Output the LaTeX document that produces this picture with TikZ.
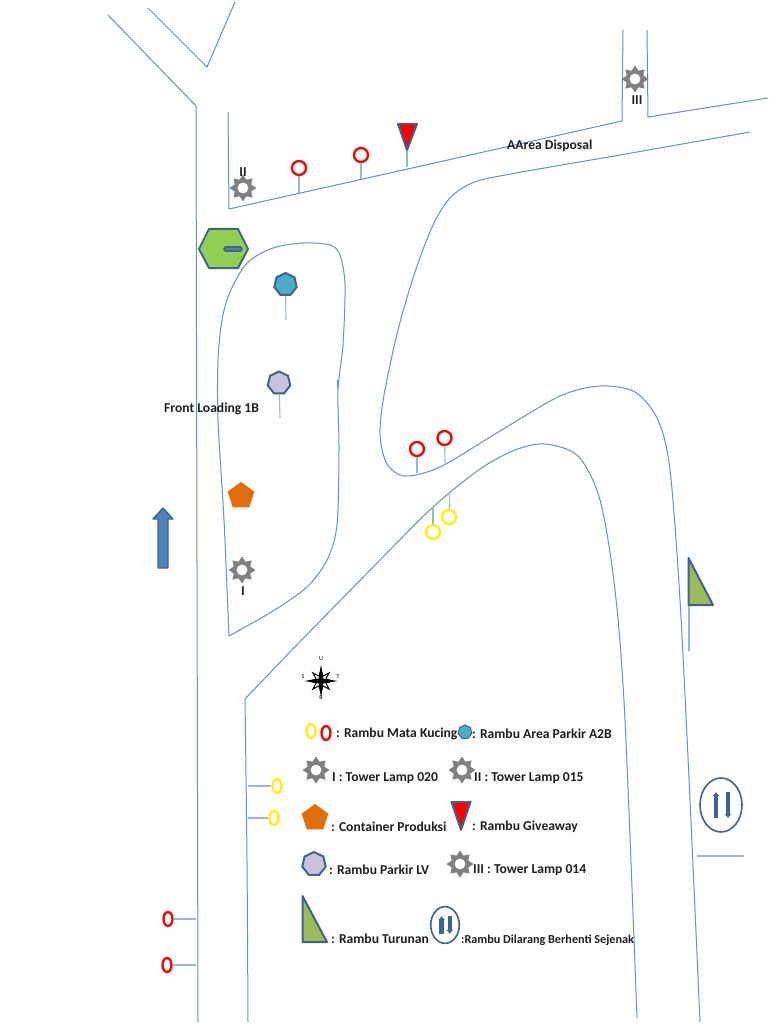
\documentclass[tikz,border=0pt]{standalone}
\usepackage{fontspec}
\setmainfont{Carlito}
\usetikzlibrary{shapes.geometric,arrows.meta}
\definecolor{roadblue}{HTML}{6690C2}
\definecolor{poleblue}{HTML}{9AB7D8}
\definecolor{signdark}{HTML}{3F6391}
\definecolor{signblue}{HTML}{4F81BD}
\definecolor{signteal}{HTML}{4BACC6}
\definecolor{signlilac}{HTML}{CCC1DA}
\definecolor{signgreen}{HTML}{92D050}
\definecolor{signolive}{HTML}{9BBB59}
\definecolor{signorange}{HTML}{E36C0A}
\tikzset{
  road/.style={draw=roadblue,line width=1pt},
  pole/.style={draw=poleblue,line width=1.1pt},
  ringred/.style={ellipse,draw=red,line width=2.3pt,fill=white,minimum width=14pt,minimum height=14pt,inner sep=0pt},
  ringyellow/.style={ringred,draw=yellow},
  tallred/.style={ringred,minimum width=9pt,minimum height=14pt},
  tallyellow/.style={ringyellow,minimum width=9pt,minimum height=14pt},
  lamp/.style={star,star points=8,star point ratio=1.5,fill=black!50,inner sep=0pt,minimum size=#1,
    label={[lamphole=0.4*#1]center:{}}},
  lamphole/.style={circle,fill=white,inner sep=0pt,minimum size=#1},
  parkir/.style={regular polygon,regular polygon sides=7,draw=signdark,line width=2pt,inner sep=0pt,minimum size=#1},
  parkirteal/.style={parkir=#1,fill=signteal},
  parkirlv/.style={parkir=#1,fill=signlilac},
  container/.style={regular polygon,regular polygon sides=5,fill=signorange,inner sep=0pt,minimum size=#1},
  giveaway/.style={fill=red,draw=signdark,line width=2pt,line join=round},
  turunan/.style={fill=signolive,draw=signdark,line width=2pt,line join=round},
  label text/.style={font=\bfseries\fontsize{13.6}{13.6}\selectfont,anchor=west,inner sep=0pt,text=black!88},
  nostop/.pic={
    \draw[draw=signdark,line width=1.6pt] (0,0) ellipse (21 and 27);
    \draw[draw=signdark,line width=4.4pt,-{Latex[length=4pt,width=7.5pt]}] (-5,13) -- (-5,-13);
    \draw[draw=signdark,line width=4.4pt,-{Latex[length=4pt,width=7.5pt]}] (7,-13) -- (7,13);
  }
}
\begin{document}
\begin{tikzpicture}[x=1pt,y=-1pt]
    \useasboundingbox (0,0) rectangle (768,1024);
    % draw the roads
    \draw[road] (108,15) -- (196,106) -- (198,1022);
    \draw[road] (148,8) -- (207,67) -- (235,2);
    \draw[road] (228,112) -- (229,209) -- (622,121) -- (623,30);
    \draw[road] (647,30) -- (648,117) -- (768,98);
    \draw[road,smooth] plot coordinates {(750,132) (620,155) (505,175) (472,183) (450,198) (433,225) (415,272) (398,330) (384,395) (380,435) (387,464) (405,476) (440,467) (500,431) (560,396) (600,386) (635,392) (658,420) (670,470) (680,600) (690,800) (700,1022)};
    \draw[road,smooth] plot coordinates {(229,636) (224,520) (218,420) (218,360) (222,320) (230,292) (247,263) (273,248) (303,243) (330,245) (340,255) (345,285) (343,345) (338,390) (339,450) (337,525) (327,560) (307,587) (273,611) (229,636)};
    \draw[road,smooth] plot coordinates {(248,1022) (247,860) (245,699)};
    \draw[road,smooth] plot coordinates {(245,699) (290,652) (380,560) (433,507) (480,469) (515,450) (545,444) (578,456) (600,500) (615,590) (625,720) (637,1018)};
    \draw[draw=roadblue,line width=1.4pt] (337.5,380) -- (337.5,389);
    % draw the lamps
    \node[lamp=27pt] (lampII) at (243,188) {};
    \node[lamp=27pt] (lampIII) at (635,79) {};
    \node[lamp=27pt] (lampI) at (242,570) {};
    \node[label text,anchor=center] (lblII) at (243,172) {II};
    \node[label text,anchor=center] (lblIII) at (637,100) {III};
    \node[label text,anchor=center] (lblI) at (243,591) {I};
    % draw the red rings
    \node[ringred] (redA) at (299,168) {};
    \node[ringred] (redB) at (361,155) {};
    \node[ringred] (redC) at (417,449) {};
    \node[ringred] (redD) at (444.5,438) {};
    \node[tallred] (redE) at (168,919) {};
    \node[tallred] (redF) at (167,965) {};
    \coordinate (redAfoot) at (299,193);
    \coordinate (redBfoot) at (361,179);
    \coordinate (redCfoot) at (417,473);
    \coordinate (redDfoot) at (445,463);
    \coordinate (redEfoot) at (196,919);
    \coordinate (redFfoot) at (196,965);
    \draw[pole] (redA) -- (redAfoot);
    \draw[pole] (redB) -- (redBfoot);
    \draw[pole] (redC) -- (redCfoot);
    \draw[pole] (redD) -- (redDfoot);
    \draw[pole] (redE) -- (redEfoot);
    \draw[pole] (redF) -- (redFfoot);
    % draw the yellow rings
    \node[ringyellow] (yelA) at (433,532) {};
    \node[ringyellow] (yelB) at (449,517) {};
    \node[tallyellow] (yelC) at (277,786) {};
    \node[tallyellow] (yelD) at (274,818) {};
    \coordinate (yelAfoot) at (433,507);
    \coordinate (yelBfoot) at (450,491);
    \coordinate (yelCfoot) at (248,786);
    \coordinate (yelDfoot) at (248,818);
    \draw[pole] (yelA) -- (yelAfoot);
    \draw[pole] (yelB) -- (yelBfoot);
    \draw[pole] (yelC) -- (yelCfoot);
    \draw[pole] (yelD) -- (yelDfoot);
    % draw the giveaway sign
    \coordinate (gwTip) at (407,150);
    \coordinate (gwFoot) at (407,167);
    \draw[pole] (gwTip) -- (gwFoot);
    \draw[giveaway] (398,124) -- (417,124) -- (gwTip) -- cycle;
    % draw the green hexagon
    \draw[fill=signgreen,draw=signdark,line width=2pt,line join=round] (199,249) -- (209,229) -- (238,229) -- (248,249) -- (238,268) -- (209,268) -- cycle;
    \draw[draw=signdark,line width=5.5pt,line cap=round] (226,249) -- (240,249);
    \draw[draw=signblue,line width=2.5pt,line cap=round] (226,249) -- (240,249);
    % draw the parking signs
    \node[parkirteal=23pt] (parkA) at (285.5,284.5) {};
    \node[parkirlv=23pt] (parkB) at (279,383) {};
    \coordinate (parkAfoot) at (286,320);
    \coordinate (parkBfoot) at (280,418);
    \draw[pole] (parkA) -- (parkAfoot);
    \draw[pole] (parkB) -- (parkBfoot);
    % draw the container, arrow and slope sign
    \node[container=28pt] (box) at (241,496) {};
    \draw[fill=signblue,draw=signdark,line width=1.4pt,line join=round] (163,508) -- (173,519) -- (168,519) -- (168,568) -- (158,568) -- (158,519) -- (153,519) -- cycle;
    \coordinate (slopeFoot) at (689,651);
    \coordinate (slopeBase) at (689,605);
    \draw[pole] (slopeBase) -- (slopeFoot);
    \draw[turunan] (688.5,558) -- (688.5,605) -- (713,605) -- cycle;
    \pic at (721,805) {nostop};
    \coordinate (stopL) at (697,856);
    \coordinate (stopR) at (744,856);
    \draw[pole] (stopL) -- (stopR);
    % draw the map labels
    \node[label text] (disposal) at (507,146) {AArea Disposal};
    \node[label text] (loading) at (164,409) {Front Loading 1B};
    % draw the compass
    \node[star,star points=8,star point ratio=2.2,fill=white,draw=black,line width=1pt,inner sep=0pt,minimum size=23pt] (north2) at (321,681) {};
    \node[star,star points=4,star point ratio=5,fill=black,inner sep=0pt,minimum size=33pt] (north) at (321,681) {};
    \node[font=\fontsize{6}{6}\selectfont,inner sep=0pt] (cU) at (321,659) {U};
    \node[font=\fontsize{6}{6}\selectfont,inner sep=0pt] (cB) at (321,698) {B};
    \node[font=\fontsize{6}{6}\selectfont,inner sep=0pt] (cS) at (303,677) {S};
    \node[font=\fontsize{6}{6}\selectfont,inner sep=0pt] (cT) at (338,677) {T};
    % draw the legend
    \node[tallyellow] (keyY) at (311,731) {};
    \node[tallred] (keyR) at (326,733) {};
    \node[label text] (txtA) at (336,734) {: Rambu Mata Kucing};
    \node[parkirteal=14pt,line width=1pt] (keyT) at (465,732) {};
    \node[label text] (txtB) at (472,734) {: Rambu Area Parkir A2B};
    \node[lamp=27pt] (keyI) at (316,770) {};
    \node[label text] (txtC) at (332,778) {I : Tower Lamp 020};
    \node[lamp=27pt] (keyII) at (462,770) {};
    \node[label text] (txtD) at (474,778) {II : Tower Lamp 015};
    \node[container=28pt] (keyBox) at (315,818) {};
    \node[label text] (txtE) at (331,827) {: Container Produksi};
    \draw[giveaway] (451.5,802) -- (470.5,802) -- (461,830) -- cycle;
    \node[label text] (txtF) at (472,827) {: Rambu Giveaway};
    \node[parkirlv=24pt] (keyLV) at (314,864) {};
    \node[label text] (txtG) at (329,870) {: Rambu Parkir LV};
    \node[lamp=27pt] (keyIII) at (460,864) {};
    \node[label text] (txtH) at (473,870) {III : Tower Lamp 014};
    \draw[turunan] (302.5,896) -- (302.5,942) -- (327,942) -- cycle;
    \node[label text] (txtJ) at (331,939) {: Rambu Turunan};
    \pic[scale=0.68] at (445,925) {nostop};
    \node[label text,font=\bfseries\fontsize{12.2}{12.2}\selectfont] (txtK) at (461,940) {:Rambu Dilarang Berhenti Sejenak};
\end{tikzpicture}
\end{document}
